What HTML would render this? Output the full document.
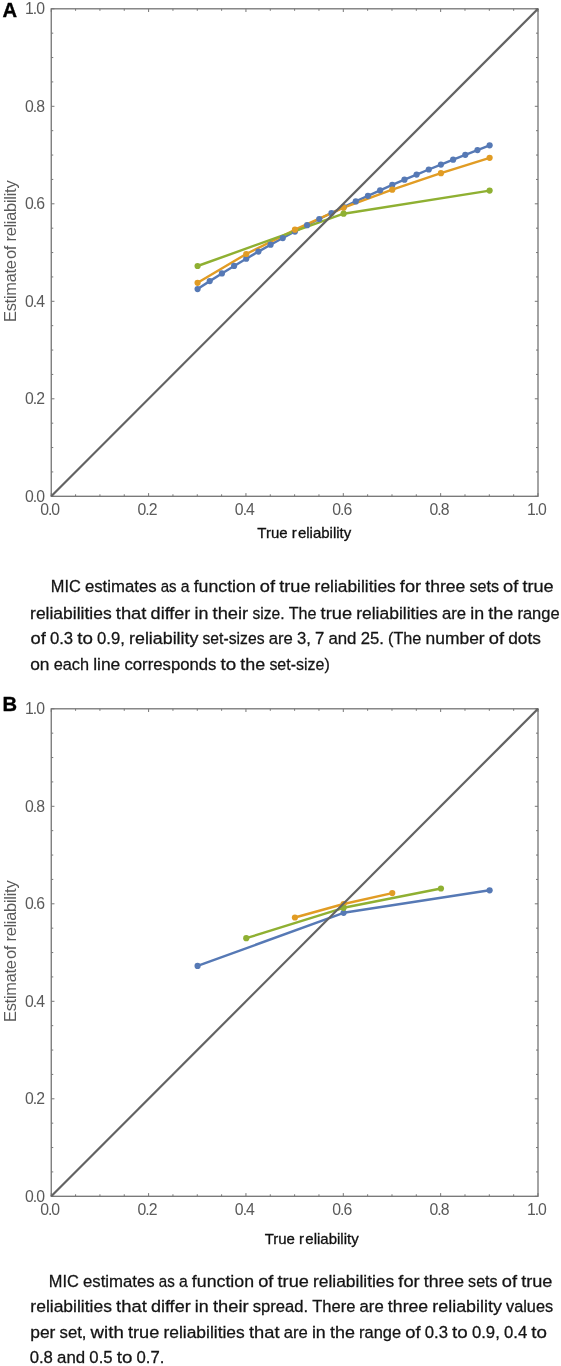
<!DOCTYPE html>
<html><head><meta charset="utf-8"><title>MIC estimates</title>
<style>html,body{margin:0;padding:0;background:#fff;}svg{display:block;}</style></head>
<body><svg width="561" height="1366" viewBox="0 0 561 1366">
<g stroke="#777777" stroke-width="1"><line x1="51.25" y1="496.30" x2="51.25" y2="493.10"/><line x1="51.25" y1="8.80" x2="51.25" y2="12.00"/><line x1="51.25" y1="496.30" x2="54.45" y2="496.30"/><line x1="538.00" y1="496.30" x2="534.80" y2="496.30"/><line x1="75.59" y1="496.30" x2="75.59" y2="494.30"/><line x1="75.59" y1="8.80" x2="75.59" y2="10.80"/><line x1="51.25" y1="471.93" x2="53.25" y2="471.93"/><line x1="538.00" y1="471.93" x2="536.00" y2="471.93"/><line x1="99.93" y1="496.30" x2="99.93" y2="494.30"/><line x1="99.93" y1="8.80" x2="99.93" y2="10.80"/><line x1="51.25" y1="447.55" x2="53.25" y2="447.55"/><line x1="538.00" y1="447.55" x2="536.00" y2="447.55"/><line x1="124.26" y1="496.30" x2="124.26" y2="494.30"/><line x1="124.26" y1="8.80" x2="124.26" y2="10.80"/><line x1="51.25" y1="423.18" x2="53.25" y2="423.18"/><line x1="538.00" y1="423.18" x2="536.00" y2="423.18"/><line x1="148.60" y1="496.30" x2="148.60" y2="493.10"/><line x1="148.60" y1="8.80" x2="148.60" y2="12.00"/><line x1="51.25" y1="398.80" x2="54.45" y2="398.80"/><line x1="538.00" y1="398.80" x2="534.80" y2="398.80"/><line x1="172.94" y1="496.30" x2="172.94" y2="494.30"/><line x1="172.94" y1="8.80" x2="172.94" y2="10.80"/><line x1="51.25" y1="374.43" x2="53.25" y2="374.43"/><line x1="538.00" y1="374.43" x2="536.00" y2="374.43"/><line x1="197.28" y1="496.30" x2="197.28" y2="494.30"/><line x1="197.28" y1="8.80" x2="197.28" y2="10.80"/><line x1="51.25" y1="350.05" x2="53.25" y2="350.05"/><line x1="538.00" y1="350.05" x2="536.00" y2="350.05"/><line x1="221.61" y1="496.30" x2="221.61" y2="494.30"/><line x1="221.61" y1="8.80" x2="221.61" y2="10.80"/><line x1="51.25" y1="325.67" x2="53.25" y2="325.67"/><line x1="538.00" y1="325.67" x2="536.00" y2="325.67"/><line x1="245.95" y1="496.30" x2="245.95" y2="493.10"/><line x1="245.95" y1="8.80" x2="245.95" y2="12.00"/><line x1="51.25" y1="301.30" x2="54.45" y2="301.30"/><line x1="538.00" y1="301.30" x2="534.80" y2="301.30"/><line x1="270.29" y1="496.30" x2="270.29" y2="494.30"/><line x1="270.29" y1="8.80" x2="270.29" y2="10.80"/><line x1="51.25" y1="276.93" x2="53.25" y2="276.93"/><line x1="538.00" y1="276.93" x2="536.00" y2="276.93"/><line x1="294.62" y1="496.30" x2="294.62" y2="494.30"/><line x1="294.62" y1="8.80" x2="294.62" y2="10.80"/><line x1="51.25" y1="252.55" x2="53.25" y2="252.55"/><line x1="538.00" y1="252.55" x2="536.00" y2="252.55"/><line x1="318.96" y1="496.30" x2="318.96" y2="494.30"/><line x1="318.96" y1="8.80" x2="318.96" y2="10.80"/><line x1="51.25" y1="228.18" x2="53.25" y2="228.18"/><line x1="538.00" y1="228.18" x2="536.00" y2="228.18"/><line x1="343.30" y1="496.30" x2="343.30" y2="493.10"/><line x1="343.30" y1="8.80" x2="343.30" y2="12.00"/><line x1="51.25" y1="203.80" x2="54.45" y2="203.80"/><line x1="538.00" y1="203.80" x2="534.80" y2="203.80"/><line x1="367.64" y1="496.30" x2="367.64" y2="494.30"/><line x1="367.64" y1="8.80" x2="367.64" y2="10.80"/><line x1="51.25" y1="179.43" x2="53.25" y2="179.43"/><line x1="538.00" y1="179.43" x2="536.00" y2="179.43"/><line x1="391.98" y1="496.30" x2="391.98" y2="494.30"/><line x1="391.98" y1="8.80" x2="391.98" y2="10.80"/><line x1="51.25" y1="155.05" x2="53.25" y2="155.05"/><line x1="538.00" y1="155.05" x2="536.00" y2="155.05"/><line x1="416.31" y1="496.30" x2="416.31" y2="494.30"/><line x1="416.31" y1="8.80" x2="416.31" y2="10.80"/><line x1="51.25" y1="130.68" x2="53.25" y2="130.68"/><line x1="538.00" y1="130.68" x2="536.00" y2="130.68"/><line x1="440.65" y1="496.30" x2="440.65" y2="493.10"/><line x1="440.65" y1="8.80" x2="440.65" y2="12.00"/><line x1="51.25" y1="106.30" x2="54.45" y2="106.30"/><line x1="538.00" y1="106.30" x2="534.80" y2="106.30"/><line x1="464.99" y1="496.30" x2="464.99" y2="494.30"/><line x1="464.99" y1="8.80" x2="464.99" y2="10.80"/><line x1="51.25" y1="81.92" x2="53.25" y2="81.92"/><line x1="538.00" y1="81.92" x2="536.00" y2="81.92"/><line x1="489.32" y1="496.30" x2="489.32" y2="494.30"/><line x1="489.32" y1="8.80" x2="489.32" y2="10.80"/><line x1="51.25" y1="57.55" x2="53.25" y2="57.55"/><line x1="538.00" y1="57.55" x2="536.00" y2="57.55"/><line x1="513.66" y1="496.30" x2="513.66" y2="494.30"/><line x1="513.66" y1="8.80" x2="513.66" y2="10.80"/><line x1="51.25" y1="33.17" x2="53.25" y2="33.17"/><line x1="538.00" y1="33.17" x2="536.00" y2="33.17"/><line x1="538.00" y1="496.30" x2="538.00" y2="493.10"/><line x1="538.00" y1="8.80" x2="538.00" y2="12.00"/><line x1="51.25" y1="8.80" x2="54.45" y2="8.80"/><line x1="538.00" y1="8.80" x2="534.80" y2="8.80"/></g><rect x="51.25" y="8.8" width="486.75" height="487.50" fill="none" stroke="#747474" stroke-width="1.3"/><g font-family="Liberation Sans, sans-serif" font-size="15.8" fill="#5a5a5a" letter-spacing="-1.0"><text x="44.0" y="501.50" text-anchor="end">0.0</text><text x="49.65" y="515.30" text-anchor="middle">0.0</text><text x="44.0" y="404.00" text-anchor="end">0.2</text><text x="147.00" y="515.30" text-anchor="middle">0.2</text><text x="44.0" y="306.50" text-anchor="end">0.4</text><text x="244.35" y="515.30" text-anchor="middle">0.4</text><text x="44.0" y="209.00" text-anchor="end">0.6</text><text x="341.70" y="515.30" text-anchor="middle">0.6</text><text x="44.0" y="111.50" text-anchor="end">0.8</text><text x="439.05" y="515.30" text-anchor="middle">0.8</text><text x="44.0" y="14.00" text-anchor="end">1.0</text><text x="536.40" y="515.30" text-anchor="middle">1.0</text></g><polyline points="197.58,289.04 209.74,281.12 221.91,273.42 234.08,265.94 246.25,258.67 258.42,251.60 270.59,244.72 282.76,238.04 294.93,231.53 307.09,225.19 319.26,219.02 331.43,213.00 343.60,207.13 355.77,201.40 367.94,195.80 380.11,190.32 392.27,184.96 404.44,179.71 416.61,174.56 428.78,169.50 440.95,164.53 453.12,159.63 465.29,154.80 477.46,150.04 489.63,145.32" fill="none" stroke="#5679B5" stroke-width="2.4" stroke-linejoin="round"/><polyline points="197.58,282.80 246.25,254.00 294.93,229.70 343.60,207.70 392.27,189.70 440.95,173.20 489.62,157.80" fill="none" stroke="#E19C24" stroke-width="2.4" stroke-linejoin="round"/><polyline points="197.58,266.00 343.60,213.70 489.62,190.60" fill="none" stroke="#8FB032" stroke-width="2.4" stroke-linejoin="round"/><circle cx="197.58" cy="289.04" r="3.1" fill="#5679B5"/><circle cx="209.74" cy="281.12" r="3.1" fill="#5679B5"/><circle cx="221.91" cy="273.42" r="3.1" fill="#5679B5"/><circle cx="234.08" cy="265.94" r="3.1" fill="#5679B5"/><circle cx="246.25" cy="258.67" r="3.1" fill="#5679B5"/><circle cx="258.42" cy="251.60" r="3.1" fill="#5679B5"/><circle cx="270.59" cy="244.72" r="3.1" fill="#5679B5"/><circle cx="282.76" cy="238.04" r="3.1" fill="#5679B5"/><circle cx="294.93" cy="231.53" r="3.1" fill="#5679B5"/><circle cx="307.09" cy="225.19" r="3.1" fill="#5679B5"/><circle cx="319.26" cy="219.02" r="3.1" fill="#5679B5"/><circle cx="331.43" cy="213.00" r="3.1" fill="#5679B5"/><circle cx="343.60" cy="207.13" r="3.1" fill="#5679B5"/><circle cx="355.77" cy="201.40" r="3.1" fill="#5679B5"/><circle cx="367.94" cy="195.80" r="3.1" fill="#5679B5"/><circle cx="380.11" cy="190.32" r="3.1" fill="#5679B5"/><circle cx="392.27" cy="184.96" r="3.1" fill="#5679B5"/><circle cx="404.44" cy="179.71" r="3.1" fill="#5679B5"/><circle cx="416.61" cy="174.56" r="3.1" fill="#5679B5"/><circle cx="428.78" cy="169.50" r="3.1" fill="#5679B5"/><circle cx="440.95" cy="164.53" r="3.1" fill="#5679B5"/><circle cx="453.12" cy="159.63" r="3.1" fill="#5679B5"/><circle cx="465.29" cy="154.80" r="3.1" fill="#5679B5"/><circle cx="477.46" cy="150.04" r="3.1" fill="#5679B5"/><circle cx="489.63" cy="145.32" r="3.1" fill="#5679B5"/><circle cx="197.58" cy="282.80" r="3.1" fill="#E19C24"/><circle cx="246.25" cy="254.00" r="3.1" fill="#E19C24"/><circle cx="294.93" cy="229.70" r="3.1" fill="#E19C24"/><circle cx="343.60" cy="207.70" r="3.1" fill="#E19C24"/><circle cx="392.27" cy="189.70" r="3.1" fill="#E19C24"/><circle cx="440.95" cy="173.20" r="3.1" fill="#E19C24"/><circle cx="489.62" cy="157.80" r="3.1" fill="#E19C24"/><circle cx="197.58" cy="266.00" r="3.1" fill="#8FB032"/><circle cx="343.60" cy="213.70" r="3.1" fill="#8FB032"/><circle cx="489.62" cy="190.60" r="3.1" fill="#8FB032"/><line x1="51.25" y1="496.30" x2="538.00" y2="8.80" stroke="#636363" stroke-width="2.2"/><text x="2.5" y="16.8" font-family="Liberation Sans, sans-serif" font-weight="bold" font-size="20.2" fill="#000" stroke="#000" stroke-width="0.35">A</text><text transform="translate(15.6,322.00) rotate(-90)" font-family="Liberation Sans, sans-serif" font-size="16.4" fill="#5a5a5a" letter-spacing="-0.26">Estimate <tspan dx="-3.0">of reliability</tspan></text><text x="257.3" y="538.0" font-family="Liberation Sans, sans-serif" font-size="14.6" fill="#111" stroke="#111" stroke-width="0.3" textLength="94" lengthAdjust="spacingAndGlyphs">True r<tspan dx="1.2">eliability</tspan></text><g font-family="Liberation Sans, sans-serif" font-size="17.2" fill="#141414" stroke="#141414" stroke-width="0.28"><text y="591.85"><tspan x="50.75" textLength="30.02" lengthAdjust="spacingAndGlyphs">MIC</tspan> <tspan x="84.91" textLength="71.68" lengthAdjust="spacingAndGlyphs">estimates</tspan> <tspan x="160.73" textLength="15.93" lengthAdjust="spacingAndGlyphs">as</tspan> <tspan x="180.80" textLength="8.77" lengthAdjust="spacingAndGlyphs">a</tspan> <tspan x="193.71" textLength="62.03" lengthAdjust="spacingAndGlyphs">function</tspan> <tspan x="259.88" textLength="15.24" lengthAdjust="spacingAndGlyphs">of</tspan> <tspan x="279.26" textLength="31.24" lengthAdjust="spacingAndGlyphs">true</tspan> <tspan x="314.63" textLength="81.11" lengthAdjust="spacingAndGlyphs">reliabilities</tspan> <tspan x="399.88" textLength="21.24" lengthAdjust="spacingAndGlyphs">for</tspan> <tspan x="425.25" textLength="40.11" lengthAdjust="spacingAndGlyphs">three</tspan> <tspan x="469.50" textLength="29.46" lengthAdjust="spacingAndGlyphs">sets</tspan> <tspan x="503.10" textLength="15.24" lengthAdjust="spacingAndGlyphs">of</tspan> <tspan x="522.48" textLength="31.24" lengthAdjust="spacingAndGlyphs">true</tspan></text><text y="618.60"><tspan x="30.09" textLength="81.56" lengthAdjust="spacingAndGlyphs">reliabilities</tspan> <tspan x="115.81" textLength="30.65" lengthAdjust="spacingAndGlyphs">that</tspan> <tspan x="150.62" textLength="39.76" lengthAdjust="spacingAndGlyphs">differ</tspan> <tspan x="194.54" textLength="13.90" lengthAdjust="spacingAndGlyphs">in</tspan> <tspan x="212.59" textLength="35.64" lengthAdjust="spacingAndGlyphs">their</tspan> <tspan x="252.39" textLength="32.09" lengthAdjust="spacingAndGlyphs">size.</tspan> <tspan x="288.64" textLength="27.80" lengthAdjust="spacingAndGlyphs">The</tspan> <tspan x="320.61" textLength="31.41" lengthAdjust="spacingAndGlyphs">true</tspan> <tspan x="356.18" textLength="81.56" lengthAdjust="spacingAndGlyphs">reliabilities</tspan> <tspan x="441.90" textLength="24.15" lengthAdjust="spacingAndGlyphs">are</tspan> <tspan x="470.22" textLength="13.90" lengthAdjust="spacingAndGlyphs">in</tspan> <tspan x="488.27" textLength="25.00" lengthAdjust="spacingAndGlyphs">the</tspan> <tspan x="517.43" textLength="42.20" lengthAdjust="spacingAndGlyphs">range</tspan></text><text y="644.20"><tspan x="30.45" textLength="15.29" lengthAdjust="spacingAndGlyphs">of</tspan> <tspan x="49.89" textLength="23.25" lengthAdjust="spacingAndGlyphs">0.3</tspan> <tspan x="77.29" textLength="15.66" lengthAdjust="spacingAndGlyphs">to</tspan> <tspan x="97.10" textLength="27.83" lengthAdjust="spacingAndGlyphs">0.9,</tspan> <tspan x="129.09" textLength="69.28" lengthAdjust="spacingAndGlyphs">reliability</tspan> <tspan x="202.51" textLength="61.99" lengthAdjust="spacingAndGlyphs">set-sizes</tspan> <tspan x="268.65" textLength="24.09" lengthAdjust="spacingAndGlyphs">are</tspan> <tspan x="296.90" textLength="13.89" lengthAdjust="spacingAndGlyphs">3,</tspan> <tspan x="314.94" textLength="9.31" lengthAdjust="spacingAndGlyphs">7</tspan> <tspan x="328.40" textLength="28.09" lengthAdjust="spacingAndGlyphs">and</tspan> <tspan x="360.65" textLength="23.25" lengthAdjust="spacingAndGlyphs">25.</tspan> <tspan x="388.05" textLength="33.30" lengthAdjust="spacingAndGlyphs">(The</tspan> <tspan x="425.50" textLength="59.15" lengthAdjust="spacingAndGlyphs">number</tspan> <tspan x="488.81" textLength="15.29" lengthAdjust="spacingAndGlyphs">of</tspan> <tspan x="508.25" textLength="32.67" lengthAdjust="spacingAndGlyphs">dots</tspan></text><text y="669.80"><tspan x="30.21" textLength="19.32" lengthAdjust="spacingAndGlyphs">on</tspan> <tspan x="53.68" textLength="35.32" lengthAdjust="spacingAndGlyphs">each</tspan> <tspan x="93.15" textLength="27.19" lengthAdjust="spacingAndGlyphs">line</tspan> <tspan x="124.49" textLength="91.91" lengthAdjust="spacingAndGlyphs">corresponds</tspan> <tspan x="220.55" textLength="15.64" lengthAdjust="spacingAndGlyphs">to</tspan> <tspan x="240.34" textLength="24.92" lengthAdjust="spacingAndGlyphs">the</tspan> <tspan x="269.40" textLength="60.32" lengthAdjust="spacingAndGlyphs">set-size)</tspan></text></g><g stroke="#777777" stroke-width="1"><line x1="51.25" y1="1196.30" x2="51.25" y2="1193.10"/><line x1="51.25" y1="708.80" x2="51.25" y2="712.00"/><line x1="51.25" y1="1196.30" x2="54.45" y2="1196.30"/><line x1="538.00" y1="1196.30" x2="534.80" y2="1196.30"/><line x1="75.59" y1="1196.30" x2="75.59" y2="1194.30"/><line x1="75.59" y1="708.80" x2="75.59" y2="710.80"/><line x1="51.25" y1="1171.92" x2="53.25" y2="1171.92"/><line x1="538.00" y1="1171.92" x2="536.00" y2="1171.92"/><line x1="99.93" y1="1196.30" x2="99.93" y2="1194.30"/><line x1="99.93" y1="708.80" x2="99.93" y2="710.80"/><line x1="51.25" y1="1147.55" x2="53.25" y2="1147.55"/><line x1="538.00" y1="1147.55" x2="536.00" y2="1147.55"/><line x1="124.26" y1="1196.30" x2="124.26" y2="1194.30"/><line x1="124.26" y1="708.80" x2="124.26" y2="710.80"/><line x1="51.25" y1="1123.17" x2="53.25" y2="1123.17"/><line x1="538.00" y1="1123.17" x2="536.00" y2="1123.17"/><line x1="148.60" y1="1196.30" x2="148.60" y2="1193.10"/><line x1="148.60" y1="708.80" x2="148.60" y2="712.00"/><line x1="51.25" y1="1098.80" x2="54.45" y2="1098.80"/><line x1="538.00" y1="1098.80" x2="534.80" y2="1098.80"/><line x1="172.94" y1="1196.30" x2="172.94" y2="1194.30"/><line x1="172.94" y1="708.80" x2="172.94" y2="710.80"/><line x1="51.25" y1="1074.42" x2="53.25" y2="1074.42"/><line x1="538.00" y1="1074.42" x2="536.00" y2="1074.42"/><line x1="197.28" y1="1196.30" x2="197.28" y2="1194.30"/><line x1="197.28" y1="708.80" x2="197.28" y2="710.80"/><line x1="51.25" y1="1050.05" x2="53.25" y2="1050.05"/><line x1="538.00" y1="1050.05" x2="536.00" y2="1050.05"/><line x1="221.61" y1="1196.30" x2="221.61" y2="1194.30"/><line x1="221.61" y1="708.80" x2="221.61" y2="710.80"/><line x1="51.25" y1="1025.67" x2="53.25" y2="1025.67"/><line x1="538.00" y1="1025.67" x2="536.00" y2="1025.67"/><line x1="245.95" y1="1196.30" x2="245.95" y2="1193.10"/><line x1="245.95" y1="708.80" x2="245.95" y2="712.00"/><line x1="51.25" y1="1001.30" x2="54.45" y2="1001.30"/><line x1="538.00" y1="1001.30" x2="534.80" y2="1001.30"/><line x1="270.29" y1="1196.30" x2="270.29" y2="1194.30"/><line x1="270.29" y1="708.80" x2="270.29" y2="710.80"/><line x1="51.25" y1="976.92" x2="53.25" y2="976.92"/><line x1="538.00" y1="976.92" x2="536.00" y2="976.92"/><line x1="294.62" y1="1196.30" x2="294.62" y2="1194.30"/><line x1="294.62" y1="708.80" x2="294.62" y2="710.80"/><line x1="51.25" y1="952.55" x2="53.25" y2="952.55"/><line x1="538.00" y1="952.55" x2="536.00" y2="952.55"/><line x1="318.96" y1="1196.30" x2="318.96" y2="1194.30"/><line x1="318.96" y1="708.80" x2="318.96" y2="710.80"/><line x1="51.25" y1="928.17" x2="53.25" y2="928.17"/><line x1="538.00" y1="928.17" x2="536.00" y2="928.17"/><line x1="343.30" y1="1196.30" x2="343.30" y2="1193.10"/><line x1="343.30" y1="708.80" x2="343.30" y2="712.00"/><line x1="51.25" y1="903.80" x2="54.45" y2="903.80"/><line x1="538.00" y1="903.80" x2="534.80" y2="903.80"/><line x1="367.64" y1="1196.30" x2="367.64" y2="1194.30"/><line x1="367.64" y1="708.80" x2="367.64" y2="710.80"/><line x1="51.25" y1="879.42" x2="53.25" y2="879.42"/><line x1="538.00" y1="879.42" x2="536.00" y2="879.42"/><line x1="391.98" y1="1196.30" x2="391.98" y2="1194.30"/><line x1="391.98" y1="708.80" x2="391.98" y2="710.80"/><line x1="51.25" y1="855.05" x2="53.25" y2="855.05"/><line x1="538.00" y1="855.05" x2="536.00" y2="855.05"/><line x1="416.31" y1="1196.30" x2="416.31" y2="1194.30"/><line x1="416.31" y1="708.80" x2="416.31" y2="710.80"/><line x1="51.25" y1="830.67" x2="53.25" y2="830.67"/><line x1="538.00" y1="830.67" x2="536.00" y2="830.67"/><line x1="440.65" y1="1196.30" x2="440.65" y2="1193.10"/><line x1="440.65" y1="708.80" x2="440.65" y2="712.00"/><line x1="51.25" y1="806.30" x2="54.45" y2="806.30"/><line x1="538.00" y1="806.30" x2="534.80" y2="806.30"/><line x1="464.99" y1="1196.30" x2="464.99" y2="1194.30"/><line x1="464.99" y1="708.80" x2="464.99" y2="710.80"/><line x1="51.25" y1="781.92" x2="53.25" y2="781.92"/><line x1="538.00" y1="781.92" x2="536.00" y2="781.92"/><line x1="489.32" y1="1196.30" x2="489.32" y2="1194.30"/><line x1="489.32" y1="708.80" x2="489.32" y2="710.80"/><line x1="51.25" y1="757.55" x2="53.25" y2="757.55"/><line x1="538.00" y1="757.55" x2="536.00" y2="757.55"/><line x1="513.66" y1="1196.30" x2="513.66" y2="1194.30"/><line x1="513.66" y1="708.80" x2="513.66" y2="710.80"/><line x1="51.25" y1="733.17" x2="53.25" y2="733.17"/><line x1="538.00" y1="733.17" x2="536.00" y2="733.17"/><line x1="538.00" y1="1196.30" x2="538.00" y2="1193.10"/><line x1="538.00" y1="708.80" x2="538.00" y2="712.00"/><line x1="51.25" y1="708.80" x2="54.45" y2="708.80"/><line x1="538.00" y1="708.80" x2="534.80" y2="708.80"/></g><rect x="51.25" y="708.8" width="486.75" height="487.50" fill="none" stroke="#747474" stroke-width="1.3"/><g font-family="Liberation Sans, sans-serif" font-size="15.8" fill="#5a5a5a" letter-spacing="-1.0"><text x="44.0" y="1201.50" text-anchor="end">0.0</text><text x="49.65" y="1215.30" text-anchor="middle">0.0</text><text x="44.0" y="1104.00" text-anchor="end">0.2</text><text x="147.00" y="1215.30" text-anchor="middle">0.2</text><text x="44.0" y="1006.50" text-anchor="end">0.4</text><text x="244.35" y="1215.30" text-anchor="middle">0.4</text><text x="44.0" y="909.00" text-anchor="end">0.6</text><text x="341.70" y="1215.30" text-anchor="middle">0.6</text><text x="44.0" y="811.50" text-anchor="end">0.8</text><text x="439.05" y="1215.30" text-anchor="middle">0.8</text><text x="44.0" y="714.00" text-anchor="end">1.0</text><text x="536.40" y="1215.30" text-anchor="middle">1.0</text></g><polyline points="197.58,965.90 343.60,912.80 489.62,890.30" fill="none" stroke="#5679B5" stroke-width="2.4" stroke-linejoin="round"/><polyline points="294.93,917.50 343.60,904.00 392.27,893.10" fill="none" stroke="#E19C24" stroke-width="2.4" stroke-linejoin="round"/><polyline points="246.25,938.20 343.60,907.80 440.95,888.50" fill="none" stroke="#8FB032" stroke-width="2.4" stroke-linejoin="round"/><circle cx="197.58" cy="965.90" r="3.1" fill="#5679B5"/><circle cx="343.60" cy="912.80" r="3.1" fill="#5679B5"/><circle cx="489.62" cy="890.30" r="3.1" fill="#5679B5"/><circle cx="294.93" cy="917.50" r="3.1" fill="#E19C24"/><circle cx="343.60" cy="904.00" r="3.1" fill="#E19C24"/><circle cx="392.27" cy="893.10" r="3.1" fill="#E19C24"/><circle cx="246.25" cy="938.20" r="3.1" fill="#8FB032"/><circle cx="343.60" cy="907.80" r="3.1" fill="#8FB032"/><circle cx="440.95" cy="888.50" r="3.1" fill="#8FB032"/><line x1="51.25" y1="1196.30" x2="538.00" y2="708.80" stroke="#636363" stroke-width="2.2"/><text x="2.4" y="711.1" font-family="Liberation Sans, sans-serif" font-weight="bold" font-size="20.2" fill="#000" stroke="#000" stroke-width="0.35">B</text><text transform="translate(15.6,1022.00) rotate(-90)" font-family="Liberation Sans, sans-serif" font-size="16.4" fill="#5a5a5a" letter-spacing="-0.26">Estimate <tspan dx="-3.0">of reliability</tspan></text><text x="264.7" y="1243.6" font-family="Liberation Sans, sans-serif" font-size="14.6" fill="#111" stroke="#111" stroke-width="0.3" textLength="94" lengthAdjust="spacingAndGlyphs">True r<tspan dx="1.2">eliability</tspan></text><g font-family="Liberation Sans, sans-serif" font-size="17.2" fill="#141414" stroke="#141414" stroke-width="0.28"><text y="1286.76"><tspan x="48.72" textLength="30.07" lengthAdjust="spacingAndGlyphs">MIC</tspan> <tspan x="82.94" textLength="71.79" lengthAdjust="spacingAndGlyphs">estimates</tspan> <tspan x="158.87" textLength="15.95" lengthAdjust="spacingAndGlyphs">as</tspan> <tspan x="178.97" textLength="8.78" lengthAdjust="spacingAndGlyphs">a</tspan> <tspan x="191.89" textLength="62.12" lengthAdjust="spacingAndGlyphs">function</tspan> <tspan x="258.16" textLength="15.26" lengthAdjust="spacingAndGlyphs">of</tspan> <tspan x="277.57" textLength="31.29" lengthAdjust="spacingAndGlyphs">true</tspan> <tspan x="313.00" textLength="81.23" lengthAdjust="spacingAndGlyphs">reliabilities</tspan> <tspan x="398.37" textLength="21.27" lengthAdjust="spacingAndGlyphs">for</tspan> <tspan x="423.79" textLength="40.17" lengthAdjust="spacingAndGlyphs">three</tspan> <tspan x="468.10" textLength="29.50" lengthAdjust="spacingAndGlyphs">sets</tspan> <tspan x="501.75" textLength="15.26" lengthAdjust="spacingAndGlyphs">of</tspan> <tspan x="521.15" textLength="31.29" lengthAdjust="spacingAndGlyphs">true</tspan></text><text y="1312.10"><tspan x="30.35" textLength="81.59" lengthAdjust="spacingAndGlyphs">reliabilities</tspan> <tspan x="116.10" textLength="30.66" lengthAdjust="spacingAndGlyphs">that</tspan> <tspan x="150.92" textLength="39.77" lengthAdjust="spacingAndGlyphs">differ</tspan> <tspan x="194.85" textLength="13.90" lengthAdjust="spacingAndGlyphs">in</tspan> <tspan x="212.91" textLength="35.65" lengthAdjust="spacingAndGlyphs">their</tspan> <tspan x="252.73" textLength="55.36" lengthAdjust="spacingAndGlyphs">spread.</tspan> <tspan x="312.25" textLength="43.15" lengthAdjust="spacingAndGlyphs">There</tspan> <tspan x="359.56" textLength="24.16" lengthAdjust="spacingAndGlyphs">are</tspan> <tspan x="387.88" textLength="40.34" lengthAdjust="spacingAndGlyphs">three</tspan> <tspan x="432.39" textLength="69.47" lengthAdjust="spacingAndGlyphs">reliability</tspan> <tspan x="506.01" textLength="47.13" lengthAdjust="spacingAndGlyphs">values</tspan></text><text y="1338.10"><tspan x="30.19" textLength="25.19" lengthAdjust="spacingAndGlyphs">per</tspan> <tspan x="59.53" textLength="26.96" lengthAdjust="spacingAndGlyphs">set,</tspan> <tspan x="90.64" textLength="33.14" lengthAdjust="spacingAndGlyphs">with</tspan> <tspan x="127.94" textLength="31.34" lengthAdjust="spacingAndGlyphs">true</tspan> <tspan x="163.43" textLength="81.37" lengthAdjust="spacingAndGlyphs">reliabilities</tspan> <tspan x="248.95" textLength="30.58" lengthAdjust="spacingAndGlyphs">that</tspan> <tspan x="283.68" textLength="24.10" lengthAdjust="spacingAndGlyphs">are</tspan> <tspan x="311.93" textLength="13.86" lengthAdjust="spacingAndGlyphs">in</tspan> <tspan x="329.95" textLength="24.94" lengthAdjust="spacingAndGlyphs">the</tspan> <tspan x="359.04" textLength="42.10" lengthAdjust="spacingAndGlyphs">range</tspan> <tspan x="405.29" textLength="15.29" lengthAdjust="spacingAndGlyphs">of</tspan> <tspan x="424.73" textLength="23.25" lengthAdjust="spacingAndGlyphs">0.3</tspan> <tspan x="452.14" textLength="15.66" lengthAdjust="spacingAndGlyphs">to</tspan> <tspan x="471.95" textLength="27.84" lengthAdjust="spacingAndGlyphs">0.9,</tspan> <tspan x="503.94" textLength="23.25" lengthAdjust="spacingAndGlyphs">0.4</tspan> <tspan x="531.34" textLength="15.66" lengthAdjust="spacingAndGlyphs">to</tspan></text><text y="1363.10"><tspan x="29.67" textLength="23.26" lengthAdjust="spacingAndGlyphs">0.8</tspan> <tspan x="57.08" textLength="28.10" lengthAdjust="spacingAndGlyphs">and</tspan> <tspan x="89.34" textLength="23.26" lengthAdjust="spacingAndGlyphs">0.5</tspan> <tspan x="116.75" textLength="15.66" lengthAdjust="spacingAndGlyphs">to</tspan> <tspan x="136.56" textLength="27.89" lengthAdjust="spacingAndGlyphs">0.7.</tspan></text></g>
</svg></body></html>
